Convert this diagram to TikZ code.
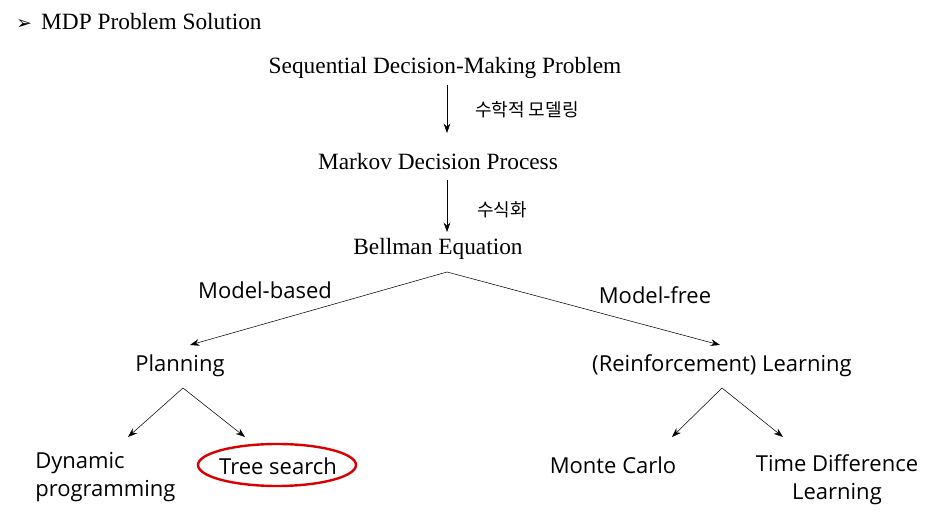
\documentclass[tikz,border=0pt]{standalone}
\usepackage{fontspec}
\setmainfont{Liberation Serif}
\newfontfamily\sansf{Open Sans}
\newfontfamily\krfont{Noto Sans CJK KR}
\newfontfamily\djvfont{DejaVu Sans}
\usetikzlibrary{arrows.meta}
\begin{document}
\begin{tikzpicture}[x=0.75pt,y=-0.75pt,
  ser/.style={font=\fontsize{17.5}{20}\selectfont, inner sep=0pt},
  san/.style={font=\sansf\fontsize{16.5}{21}\selectfont, inner sep=0pt},
  krl/.style={font=\krfont\fontsize{13.5}{16}\selectfont, inner sep=0pt, anchor=west},
  arr/.style={-{Stealth[length=7pt,width=5pt]}, thin}]
\useasboundingbox (0,0) rectangle (936,523);
\node[ser, anchor=west] (title) at (16,22) {{\djvfont\fontsize{14}{16}\selectfont ➢}\hspace{7pt}MDP Problem Solution};
\node[ser] (seq) at (445,68) {Sequential Decision-Making Problem};
\node[ser] (mdp) at (438,162) {Markov Decision Process};
\node[ser] (bell) at (438,249) {Bellman Equation};
\coordinate (a1) at (447,85); \coordinate (a2) at (447,133);
\coordinate (b1) at (447,180); \coordinate (b2) at (447,232);
\draw[arr] (a1) -- (a2);
\draw[arr] (b1) -- (b2);
\node[krl] (k1) at (475,110) {수학적 모델링};
\node[krl] (k2) at (477,210) {수식화};
\coordinate (c0) at (447,272);
\coordinate (c1) at (190,345); \coordinate (c2) at (720,345);
\draw[arr] (c0) -- (c1);
\draw[arr] (c0) -- (c2);
\node[san] (mb) at (265,290) {Model-based};
\node[san] (mf) at (655,295) {Model-free};
\node[san] (plan) at (180,366) {Planning};
\node[san] (rl) at (722,366) {(Reinforcement) Learning};
\coordinate (p0) at (183,388);
\coordinate (p1) at (128,437); \coordinate (p2) at (245,437);
\coordinate (l0) at (722,388);
\coordinate (l1) at (672,437); \coordinate (l2) at (783,437);
\draw[arr] (p0) -- (p1); \draw[arr] (p0) -- (p2);
\draw[arr] (l0) -- (l1); \draw[arr] (l0) -- (l2);
\node[san, align=left, anchor=north west] (dp) at (35,452) {Dynamic\\programming};
\node[san] (ts) at (278,466) {Tree search};
\draw[red!85!black, line width=1.8pt] (277,465) ellipse (79 and 21);
\node[san] (mc) at (613,465) {Monte Carlo};
\node[san, align=center] (td) at (837,480) {Time Difference\\Learning};
\end{tikzpicture}
\end{document}
